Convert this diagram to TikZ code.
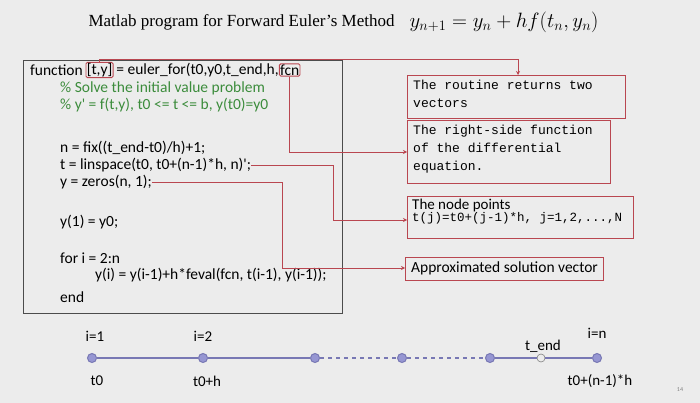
\documentclass[tikz,border=0pt]{standalone}
\usepackage{fontspec}
\setmainfont{Liberation Serif}
\newfontfamily\codefont{Carlito}
\newfontfamily\monofont{Liberation Mono}
\usetikzlibrary{arrows.meta}
\definecolor{redl}{RGB}{185,70,80}
\definecolor{cmt}{RGB}{60,140,60}
\definecolor{tl}{RGB}{120,120,180}
\definecolor{tlf}{RGB}{150,150,210}
\definecolor{bg}{RGB}{236,236,236}
\tikzset{
 code/.style={anchor=west,inner sep=0pt,font=\codefont\fontsize{15.5}{18}\selectfont},
 cmtc/.style={code,text=cmt},
 mono/.style={font=\monofont\fontsize{13}{18}\selectfont},
 conn/.style={draw=redl,line width=0.6pt,-{Stealth[length=4pt,width=4pt]}},
 hl/.style={draw=redl,rounded corners=1.5pt,line width=0.9pt,inner sep=0.8pt},
 dot/.style={circle,draw=tl,fill=tlf,line width=1pt,minimum size=9pt,inner sep=0pt},
 lab/.style={font=\codefont\fontsize{15}{17}\selectfont}
}
\begin{document}
\begin{tikzpicture}[x=1pt,y=-1pt]
\fill[bg] (0,0) rectangle (700,403);
\useasboundingbox (0,0) rectangle (700,403);
\node[anchor=west,font=\fontsize{17}{20}\selectfont] (title) at (85,22) {Matlab program for Forward Euler's Method};
\node[anchor=west,font=\fontsize{22}{24}\selectfont] (formula) at (406,22) {$y_{n+1}=y_n+hf(t_n,y_n)$};
\draw[black!70,line width=0.6pt] (23,60) rectangle (342,313);
\node[code] (fn) at (30,70) {function\,};
\node[code,hl,anchor=west] (ty) at (fn.east) {[t,y]};
\node[code,anchor=west] (fn2) at (ty.east) {\,= euler\_for(t0,y0,t\_end,h,};
\node[code,hl,anchor=west] (fcn) at (fn2.east) {fcn};
\node[cmtc] (c1) at (60,88) {\% Solve the initial value problem};
\node[cmtc] (c2) at (60,105) {\% y' = f(t,y), t0 <= t <= b, y(t0)=y0};
\node[code] (l1) at (60,148) {n = fix((t\_end-t0)/h)+1;};
\node[code] (l2) at (60,165) {t = linspace(t0, t0+(n-1)*h, n)';};
\node[code] (l3) at (60,182) {y = zeros(n, 1);};
\node[code] (l4) at (60,222) {y(1) = y0;};
\node[code] (l5) at (60,258) {for i = 2:n};
\node[code] (l6) at (95,275) {y(i) = y(i-1)+h*feval(fcn, t(i-1), y(i-1));};
\node[code] (l7) at (60,297) {end};
\draw[redl,line width=0.7pt] (407,75) rectangle (625,118);
\node[mono,anchor=north west,align=left,inner sep=0pt] (b1) at (413,80) {The routine returns two\\vectors};
\draw[redl,line width=0.7pt] (407,120) rectangle (610,183);
\node[mono,anchor=north west,align=left,inner sep=0pt] (b2) at (413,125) {The right-side function\\of the differential\\equation.};
\draw[redl,line width=0.7pt] (407,196) rectangle (633,238);
\node[anchor=north west,align=left,inner sep=0pt] (b3) at (412,199) {{\codefont\fontsize{15}{17}\selectfont The node points}\\{\monofont\fontsize{12.5}{16}\selectfont t(j)=t0+(j-1)*h,\ j=1,2,...,N}};
\draw[redl,line width=0.7pt] (405,257) rectangle (603,280);
\node[code] (b4) at (411,268.5) {Approximated solution vector};
\coordinate (e1) at (518,75);
\coordinate (e2) at (407,152);
\coordinate (e3) at (407,220);
\coordinate (e4) at (405,268);
\draw[conn] (ty.north) -- (ty.north|-0,59) -- (518,59) -- (e1);
\draw[conn] (fcn.south) -- (fcn.south|-0,152) -- (e2);
\draw[conn] (l2.east) -- (333,165) -- (333,220) -- (e3);
\draw[conn] (l3.east) -- (282,182) -- (282,268) -- (e4);
% timeline
\node[dot] (p1) at (92,358) {};
\node[dot] (p2) at (203,358) {};
\node[dot] (p3) at (315,358) {};
\node[dot] (p4) at (402,358) {};
\node[dot] (p5) at (490,358) {};
\node[circle,draw=gray,minimum size=8pt,inner sep=0pt,line width=0.6pt] (pe) at (541,358) {};
\node[dot] (p6) at (597,358) {};
\draw[tl,line width=1.5pt] (p1)--(p2); \draw[tl,line width=1.5pt] (p2)--(p3);
\draw[tl,line width=1.5pt,dash pattern=on 4pt off 4pt] (p3)--(p4);
\draw[tl,line width=1.5pt,dash pattern=on 4pt off 4pt] (p4)--(p5);
\draw[tl,line width=1.5pt] (p5)--(pe); \draw[tl,line width=1.5pt] (pe)--(p6);
\node[lab] (i1) at (95,336) {i=1};
\node[lab] (i2) at (203,336) {i=2};
\node[lab] (in) at (597,333) {i=n};
\node[lab] (te) at (543,346) {t\_end};
\node[lab] (t0) at (97,381) {t0};
\node[lab] (t1) at (207,381) {t0+h};
\node[lab] (tn) at (600,381) {t0+(n-1)*h};
\node[font=\codefont\fontsize{6}{7}\selectfont,text=gray] (pg) at (680,390) {14};
\end{tikzpicture}
\end{document}
